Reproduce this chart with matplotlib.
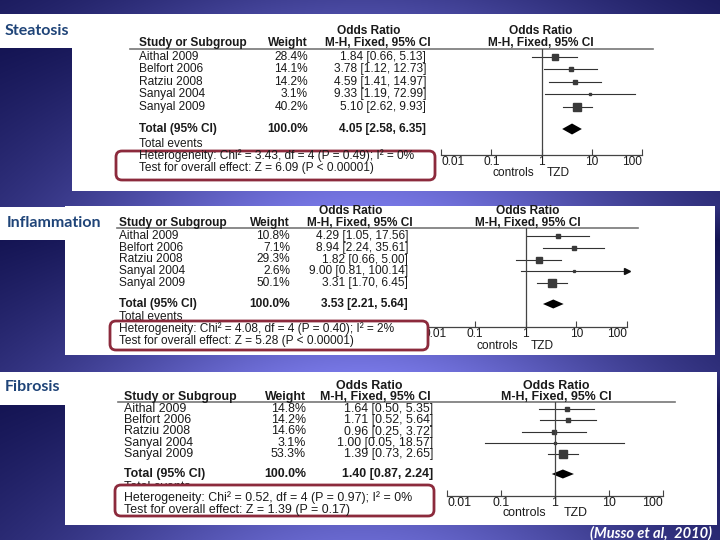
import numpy as np
import matplotlib
matplotlib.use("Agg")
import matplotlib.pyplot as plt
from matplotlib.patches import Rectangle, FancyBboxPatch
from matplotlib.ticker import NullLocator

plt.rcParams['font.family'] = ['Liberation Sans', 'DejaVu Sans']

# data (Musso et al. 2010, TZD vs controls)
studies = ["Aithal 2009", "Belfort 2006", "Ratziu 2008", "Sanyal 2004", "Sanyal 2009"]

steatosis_weight = [28.4, 14.1, 14.2, 3.1, 40.2]
steatosis_or = [1.84, 3.78, 4.59, 9.33, 5.10]
steatosis_lo = [0.66, 1.12, 1.41, 1.19, 2.62]
steatosis_hi = [5.13, 12.73, 14.97, 72.99, 9.93]
steatosis_total = [4.05, 2.58, 6.35]
steatosis_het = "Heterogeneity: Chi² = 3.43, df = 4 (P = 0.49); I² = 0%"
steatosis_test = "Test for overall effect: Z = 6.09 (P < 0.00001)"

inflam_weight = [10.8, 7.1, 29.3, 2.6, 50.1]
inflam_or = [4.29, 8.94, 1.82, 9.00, 3.31]
inflam_lo = [1.05, 2.24, 0.66, 0.81, 1.70]
inflam_hi = [17.56, 35.61, 5.00, 100.14, 6.45]
inflam_total = [3.53, 2.21, 5.64]
inflam_het = "Heterogeneity: Chi² = 4.08, df = 4 (P = 0.40); I² = 2%"
inflam_test = "Test for overall effect: Z = 5.28 (P < 0.00001)"

fibrosis_weight = [14.8, 14.2, 14.6, 3.1, 53.3]
fibrosis_or = [1.64, 1.71, 0.96, 1.00, 1.39]
fibrosis_lo = [0.50, 0.52, 0.25, 0.05, 0.73]
fibrosis_hi = [5.35, 5.64, 3.72, 18.57, 2.65]
fibrosis_total = [1.40, 0.87, 2.24]
fibrosis_het = "Heterogeneity: Chi² = 0.52, df = 4 (P = 0.97); I² = 0%"
fibrosis_test = "Test for overall effect: Z = 1.39 (P = 0.17)"

total_weight = "100.0%"
ticks = [0.01, 0.1, 1, 10, 100]
tick_labels = ["0.01", "0.1", "1", "10", "100"]

TXT = '#1a1a1a'
LINE = '#444444'
W, H = 720, 540

# pixel layout of each panel on the slide
layouts = [
    dict(title="Steatosis", box=(72, 14, 720, 191), lbox=(0, 14, 72, 48), lx=5, ly=31,
         name_x=139, weight_r=308, ci_r=426, or_c=369, ci_c=378, fp_c=541,
         y_or=31, y_hdr=43, line_y=49, line_x=(130, 653), row0=57, dy=12.4,
         total_y=129, events_y=144, het_y=156, test_y=168,
         x001=441, x100=642, axis_y=155, lab_y=173, ctrl_c=513, tzd_c=558,
         red=(116, 151, 435, 180), fs=8.6, dia=5.5),
    dict(title="Inflammation", box=(65, 206, 715, 355), lbox=(0, 207, 65, 240), lx=7, ly=223,
         name_x=119, weight_r=290, ci_r=408, or_c=351, ci_c=360, fp_c=528,
         y_or=211, y_hdr=223, line_y=228, line_x=(117, 638), row0=236, dy=11.75,
         total_y=304, events_y=316.5, het_y=328.5, test_y=341,
         x001=424, x100=627, axis_y=327, lab_y=346, ctrl_c=497, tzd_c=542,
         red=(110, 321, 428, 350), fs=8.6, dia=4.5),
    dict(title="Fibrosis", box=(65, 372, 717, 525), lbox=(0, 372, 65, 405), lx=5, ly=387,
         name_x=124, weight_r=306, ci_r=433, or_c=369, ci_c=375, fp_c=556,
         y_or=386, y_hdr=397, line_y=402, line_x=(118, 675), row0=409, dy=11.25,
         total_y=474, events_y=487, het_y=498, test_y=510,
         x001=447, x100=663, axis_y=496, lab_y=513, ctrl_c=524, tzd_c=576,
         red=(115, 485, 434, 516), fs=8.9, dia=4.5),
]

fig = plt.figure(figsize=(7.2, 5.4), dpi=100)

# slide background: blue gradient
yy, xx = np.mgrid[0:H, 0:W]
xn = xx / W
h = 0.2 + 0.8 * np.exp(-((xn - 0.5) / 0.4) ** 2)
v = np.interp(yy, [0, 14, 48, 206, 240, 372, 405, 540], [0.3, 0.4, 0.0, 1.0, 0.0, 1.0, 0.0, 0.8])
t = h * (0.35 + 0.65 * v)
dark = np.array([6, 6, 62]) / 255
light = np.array([120, 120, 230]) / 255
rgb = dark + (light - dark) * t[..., None]

bg = fig.add_axes([0, 0, 1, 1])
bg.imshow(rgb, extent=(0, W, H, 0), aspect='auto', interpolation='bilinear')
bg.set_xlim(0, W)
bg.set_ylim(H, 0)
bg.axis('off')

top = fig.add_axes([0, 0, 1, 1])
top.set_xlim(0, W)
top.set_ylim(H, 0)
top.axis('off')
top.patch.set_alpha(0)
top.set_zorder(10)


def draw_panel(lay, weight, odds, lo, hi, total, het, test):
    fs = lay['fs']
    x0, y0, x1, y1 = lay['box']
    bg.add_patch(Rectangle((x0, y0), x1 - x0, y1 - y0, fc='white', ec='none'))
    a0, b0, a1, b1 = lay['lbox']
    bg.add_patch(Rectangle((a0, b0), a1 - a0, b1 - b0, fc='white', ec='none'))
    bg.text(lay['lx'], lay['ly'], lay['title'], family=['Lato', 'DejaVu Sans'], fontweight='bold',
            fontsize=11.5, color='#1f4478', va='center', ha='left')

    # column headers
    bg.text(lay['or_c'], lay['y_or'], "Odds Ratio", fontsize=fs, fontweight='bold', color=TXT, ha='center', va='center')
    bg.text(lay['fp_c'], lay['y_or'], "Odds Ratio", fontsize=fs, fontweight='bold', color=TXT, ha='center', va='center')
    bg.text(lay['name_x'], lay['y_hdr'], "Study or Subgroup", fontsize=fs, fontweight='bold', color=TXT, va='center')
    bg.text(lay['weight_r'], lay['y_hdr'], "Weight", fontsize=fs, fontweight='bold', color=TXT, ha='right', va='center')
    bg.text(lay['ci_c'], lay['y_hdr'], "M-H, Fixed, 95% CI", fontsize=fs, fontweight='bold', color=TXT, ha='center', va='center')
    bg.text(lay['fp_c'], lay['y_hdr'], "M-H, Fixed, 95% CI", fontsize=fs, fontweight='bold', color=TXT, ha='center', va='center')
    bg.plot(lay['line_x'], [lay['line_y'], lay['line_y']], color='#777777', lw=1.2)

    # study rows
    for i, name in enumerate(studies):
        y = lay['row0'] + i * lay['dy']
        bg.text(lay['name_x'], y, name, fontsize=fs, color=TXT, va='center')
        bg.text(lay['weight_r'], y, "%.1f%%" % weight[i], fontsize=fs, color=TXT, ha='right', va='center')
        bg.text(lay['ci_r'], y, "%.2f [%.2f, %.2f]" % (odds[i], lo[i], hi[i]), fontsize=fs, color=TXT, ha='right', va='center')

    ty = lay['total_y']
    bg.text(lay['name_x'], ty, "Total (95% CI)", fontsize=fs, fontweight='bold', color=TXT, va='center')
    bg.text(lay['weight_r'], ty, total_weight, fontsize=fs, fontweight='bold', color=TXT, ha='right', va='center')
    bg.text(lay['ci_r'], ty, "%.2f [%.2f, %.2f]" % tuple(total), fontsize=fs, fontweight='bold', color=TXT, ha='right', va='center')
    bg.text(lay['name_x'], lay['events_y'], "Total events", fontsize=fs, color=TXT, va='center')

    bg.text(lay['ctrl_c'], lay['lab_y'], "controls", fontsize=fs, color=TXT, ha='center', va='center')
    bg.text(lay['tzd_c'], lay['lab_y'], "TZD", fontsize=fs, color=TXT, ha='center', va='center')

    # forest plot on a log axis
    ax_y, ln_y = lay['axis_y'], lay['line_y']
    fa = fig.add_axes([lay['x001'] / W, 1 - ax_y / H, (lay['x100'] - lay['x001']) / W, (ax_y - ln_y) / H])
    fa.set_zorder(5)
    fa.patch.set_alpha(0)
    fa.set_xscale('log')
    fa.set_xlim(0.01, 100)
    fa.set_ylim(ax_y, ln_y)
    for i in range(len(studies)):
        y = lay['row0'] + i * lay['dy']
        fa.plot([lo[i], min(hi[i], 100)], [y, y], color='#333333', lw=0.8)
        if hi[i] > 100:
            fa.plot(100, y, '>', ms=4.5, color='#111111', clip_on=False)
        fa.plot(odds[i], y, 's', ms=0.85 * np.sqrt(weight[i]), color='#3a3a3a', mec='#3a3a3a')
    d = lay['dia']
    fa.fill([total[1], total[0], total[2], total[0]], [ty, ty - d, ty, ty + d], color='black', lw=0)
    fa.axvline(1, color=LINE, lw=0.9)
    for s in ['top', 'left', 'right']:
        fa.spines[s].set_visible(False)
    fa.spines['bottom'].set_color(LINE)
    fa.spines['bottom'].set_linewidth(0.9)
    fa.set_yticks([])
    fa.set_xticks(ticks, labels=tick_labels)
    fa.xaxis.set_minor_locator(NullLocator())
    fa.tick_params(axis='x', direction='in', length=4, width=0.8, color=LINE,
                   labelsize=fs, labelcolor=TXT, pad=0.5)
    labs = fa.get_xticklabels()
    labs[0].set_ha('left')
    labs[-1].set_ha('right')

    # red highlight box over the statistics
    r0, s0, r1, s1 = lay['red']
    top.add_patch(FancyBboxPatch((r0, s0), r1 - r0, s1 - s0, boxstyle="round,pad=0,rounding_size=6",
                                 fc='white', ec='#8c2a3c', lw=2))
    top.text(lay['name_x'], lay['het_y'], het, fontsize=fs, color=TXT, va='center')
    top.text(lay['name_x'], lay['test_y'], test, fontsize=fs, color=TXT, va='center')


draw_panel(layouts[0], steatosis_weight, steatosis_or, steatosis_lo, steatosis_hi,
           steatosis_total, steatosis_het, steatosis_test)
draw_panel(layouts[1], inflam_weight, inflam_or, inflam_lo, inflam_hi,
           inflam_total, inflam_het, inflam_test)
draw_panel(layouts[2], fibrosis_weight, fibrosis_or, fibrosis_lo, fibrosis_hi,
           fibrosis_total, fibrosis_het, fibrosis_test)

bg.text(712, 533, "(Musso et al,  2010)", family=['Lato', 'DejaVu Sans'], fontweight='bold',
        style='italic', fontsize=10.5, color='white', ha='right', va='center')

fig.savefig("out.png", dpi=100)
